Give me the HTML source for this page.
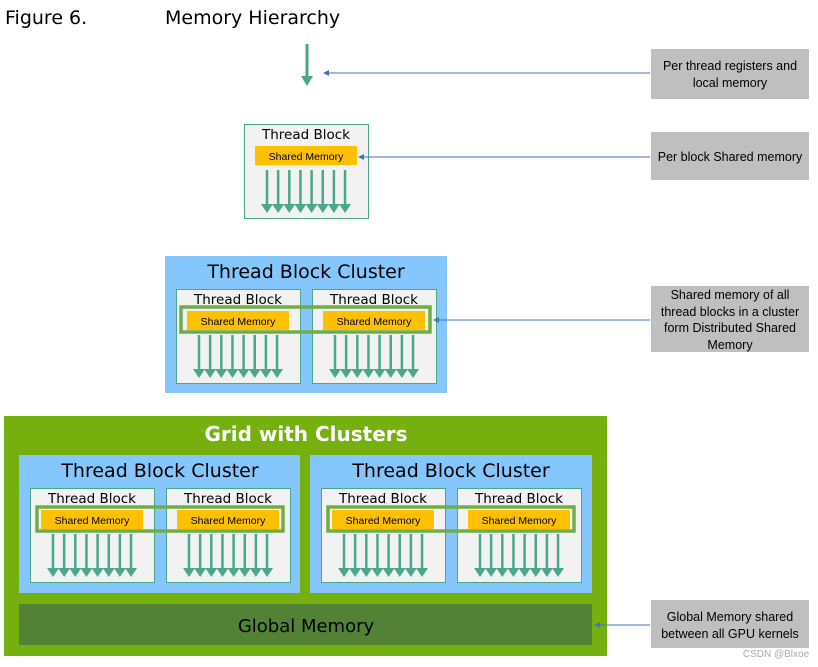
<!DOCTYPE html>
<html><head><meta charset="utf-8"><style>
body{margin:0;background:#fff;}
svg{display:block;font-family:"DejaVu Sans","Liberation Sans",sans-serif;}
.g{font-family:"Liberation Sans",sans-serif;font-size:12.5px;}
</style></head><body>
<svg id="s" width="818" height="667" viewBox="0 0 818 667" xmlns="http://www.w3.org/2000/svg">
<defs>
<marker id="ba" markerWidth="6" markerHeight="6" refX="5" refY="3" orient="auto"><path d="M0,0 L6,3 L0,6 z" fill="#4472c4"/></marker>
</defs>
<text x="5" y="24" font-size="19" fill="#000">Figure 6.</text>
<text x="165" y="24" font-size="19" fill="#000">Memory Hierarchy</text>
<line x1="307" y1="44" x2="307" y2="77" stroke="#4aa88a" stroke-width="3"/>
<path d="M301,76 L313,76 L307,86 z" fill="#4aa88a"/>

<rect x="651" y="49" width="158" height="50" fill="#bfbfbf"/>
<text x="730" y="70" class="g" text-anchor="middle">Per thread registers and</text>
<text x="730" y="87" class="g" text-anchor="middle">local memory</text>
<rect x="651" y="132" width="158" height="48" fill="#bfbfbf"/>
<text x="730" y="161" class="g" text-anchor="middle">Per block Shared memory</text>
<rect x="651" y="286" width="158" height="66" fill="#bfbfbf"/>
<text x="730" y="299" class="g" text-anchor="middle">Shared memory of all</text>
<text x="730" y="316" class="g" text-anchor="middle">thread blocks in a cluster</text>
<text x="730" y="332" class="g" text-anchor="middle">form Distributed Shared</text>
<text x="730" y="349" class="g" text-anchor="middle">Memory</text>
<rect x="651" y="600" width="158" height="48" fill="#bfbfbf"/>
<text x="730" y="621" class="g" text-anchor="middle">Global Memory shared</text>
<text x="730" y="638" class="g" text-anchor="middle">between all GPU kernels</text>
<text x="776" y="657" font-size="10" fill="#aaa" text-anchor="middle" font-family="Liberation Sans,sans-serif">CSDN @Blxoe</text>

<rect x="165" y="256" width="282" height="137" fill="#85c7fc"/>
<text x="306" y="278" font-size="19" text-anchor="middle">Thread Block Cluster</text>
<rect x="4" y="416" width="603" height="240" fill="#76b00f"/>
<text x="306" y="441" font-size="20" font-weight="bold" fill="#fff" text-anchor="middle">Grid with Clusters</text>
<rect x="19" y="455" width="281" height="138" fill="#85c7fc"/>
<text x="160" y="477" font-size="19" text-anchor="middle">Thread Block Cluster</text>
<rect x="310" y="455" width="282" height="138" fill="#85c7fc"/>
<text x="451" y="477" font-size="19" text-anchor="middle">Thread Block Cluster</text>
<rect x="19" y="604" width="573" height="41" fill="#538135"/>
<text x="306" y="632" font-size="18" text-anchor="middle">Global Memory</text>
<g id="blocks"></g>
<rect x="181" y="307" width="249" height="25" fill="none" stroke="#70ad47" stroke-width="3.5"/>
<rect x="37" y="507" width="246" height="24" fill="none" stroke="#70ad47" stroke-width="3.5"/>
<rect x="328" y="507" width="246" height="24" fill="none" stroke="#70ad47" stroke-width="3.5"/>

<line x1="650" y1="73" x2="324" y2="73" stroke="#4472c4" stroke-width="1" marker-end="url(#ba)"/>
<line x1="650" y1="157" x2="359" y2="157" stroke="#4472c4" stroke-width="1" marker-end="url(#ba)"/>
<line x1="650" y1="320" x2="434" y2="320" stroke="#4472c4" stroke-width="1" marker-end="url(#ba)"/>
<line x1="650" y1="625" x2="595" y2="625" stroke="#4472c4" stroke-width="1" marker-end="url(#ba)"/>
</svg>
<script>
var g=document.getElementById('blocks'),h='';
function blk(x,y){
 h+='<rect x="'+(x+.5)+'" y="'+(y+.5)+'" width="124" height="94" fill="#f2f2f2" stroke="#4aa88a" stroke-width="1"/>';
 h+='<text x="'+(x+62)+'" y="'+(y+15)+'" font-size="13.5" text-anchor="middle">Thread Block</text>';
 h+='<rect x="'+(x+11)+'" y="'+(y+22)+'" width="102" height="19" fill="#ffc000"/>';
 h+='<text x="'+(x+62)+'" y="'+(y+36)+'" font-size="10.5" text-anchor="middle" font-family="Liberation Sans,sans-serif">Shared Memory</text>';
 for(var i=0;i<8;i++){var ax=x+23+i*11.15;
  h+='<line x1="'+ax+'" y1="'+(y+46)+'" x2="'+ax+'" y2="'+(y+81)+'" stroke="#4aa88a" stroke-width="2.5"/>';
  h+='<path d="M'+(ax-6)+','+(y+80)+' L'+(ax+6)+','+(y+80)+' L'+ax+','+(y+89)+' z" fill="#4aa88a"/>';}
}
blk(244,124);blk(176,289);blk(312,289);blk(30,488);blk(166,488);blk(321,488);blk(457,488);
g.innerHTML=h;
</script>
</body></html>
